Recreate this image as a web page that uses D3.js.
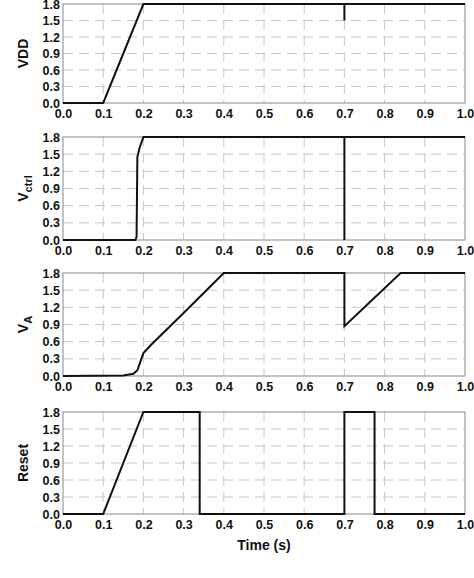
<!DOCTYPE html>
<html><head><meta charset="utf-8">
<script src="https://cdn.jsdelivr.net/npm/d3@7"></script>
<style>body{margin:0;background:#fff}svg{font-family:"Liberation Sans",Arial,sans-serif;font-weight:bold}</style>
</head><body><svg id="chart" width="474" height="578"></svg>
<script>
var xTicks = [0,0.1,0.2,0.3,0.4,0.5,0.6,0.7,0.8,0.9,1.0];
var yTicks = [0,0.3,0.6,0.9,1.2,1.5,1.8];
var vddT = [0,0.1,0.2,0.7,0.7,0.7,1];
var vddV = [0,0,1.8,1.8,1.5,1.8,1.8];
var vctrlT = [0,0.18,0.183,0.185,0.19,0.2,0.7,0.7,0.7,1];
var vctrlV = [0,0,0.05,1.45,1.6,1.8,1.8,0,1.8,1.8];
var vaT = [0,0.15,0.175,0.185,0.19,0.2,0.22,0.3,0.4,0.7,0.7,0.84,1];
var vaV = [0,0.01,0.04,0.1,0.2,0.4,0.55,1.1,1.8,1.8,0.87,1.8,1.8];
var resetT = [0,0.1,0.2,0.34,0.34,0.7,0.7,0.775,0.775,1];
var resetV = [0,0,1.8,1.8,0,0,1.8,1.8,0,0];

var panels = [
  {label:"VDD", sub:"", t:vddT, v:vddV, top:4, bot:103},
  {label:"V", sub:"ctrl", t:vctrlT, v:vctrlV, top:137, bot:240},
  {label:"V", sub:"A", t:vaT, v:vaV, top:273, bot:376},
  {label:"Reset", sub:"", t:resetT, v:resetV, top:412, bot:514}
];

var svg = d3.select('#chart');
var x = d3.scaleLinear().domain([0,1]).range([63,465]);

panels.forEach(function(p){
  var y = d3.scaleLinear().domain([0,1.8]).range([p.bot,p.top]);
  var g = svg.append('g');
  g.selectAll('.gx').data(xTicks.slice(1,-1)).enter().append('line')
    .attr('x1',d=>x(d)).attr('x2',d=>x(d)).attr('y1',p.top).attr('y2',p.bot)
    .attr('stroke','#c8c8c8').attr('stroke-dasharray','10,6');
  g.selectAll('.gy').data(yTicks.slice(1,-1)).enter().append('line')
    .attr('x1',63).attr('x2',465).attr('y1',d=>y(d)).attr('y2',d=>y(d))
    .attr('stroke','#c8c8c8').attr('stroke-dasharray','10,6');
  g.append('rect').attr('x',63).attr('y',p.top).attr('width',402).attr('height',p.bot-p.top)
    .attr('fill','none').attr('stroke','#888');
  var ax = g.append('g').attr('transform','translate(0,'+p.bot+')')
    .call(d3.axisBottom(x).tickValues(xTicks).tickFormat(d3.format('.1f')).tickSize(0).tickPadding(6));
  var ay = g.append('g').attr('transform','translate(63,0)')
    .call(d3.axisLeft(y).tickValues(yTicks).tickFormat(d3.format('.1f')).tickSize(0).tickPadding(3));
  [ax,ay].forEach(a=>{a.select('.domain').remove();a.selectAll('text').attr('font-size',12.5).attr('fill','#111').attr('font-family','"Liberation Sans",Arial,sans-serif').attr('font-weight','bold');});
  var pts = p.t.map((t,i)=>[t,p.v[i]]);
  g.append('path').datum(pts)
    .attr('d', d3.line().x(d=>x(d[0])).y(d=>y(d[1])))
    .attr('fill','none').attr('stroke','#111').attr('stroke-width',2);
  var lab = g.append('text').attr('transform','translate(28,'+((p.top+p.bot)/2)+') rotate(-90)')
    .attr('text-anchor','middle').attr('font-size',14).attr('fill','#111');
  lab.append('tspan').text(p.label);
  if (p.sub) lab.append('tspan').attr('font-size',11).attr('dy',4).text(p.sub);
});
svg.append('text').attr('x',x(0.5)).attr('y',550).attr('text-anchor','middle')
  .attr('font-size',14).attr('fill','#111').text('Time (s)');
</script></body></html>
